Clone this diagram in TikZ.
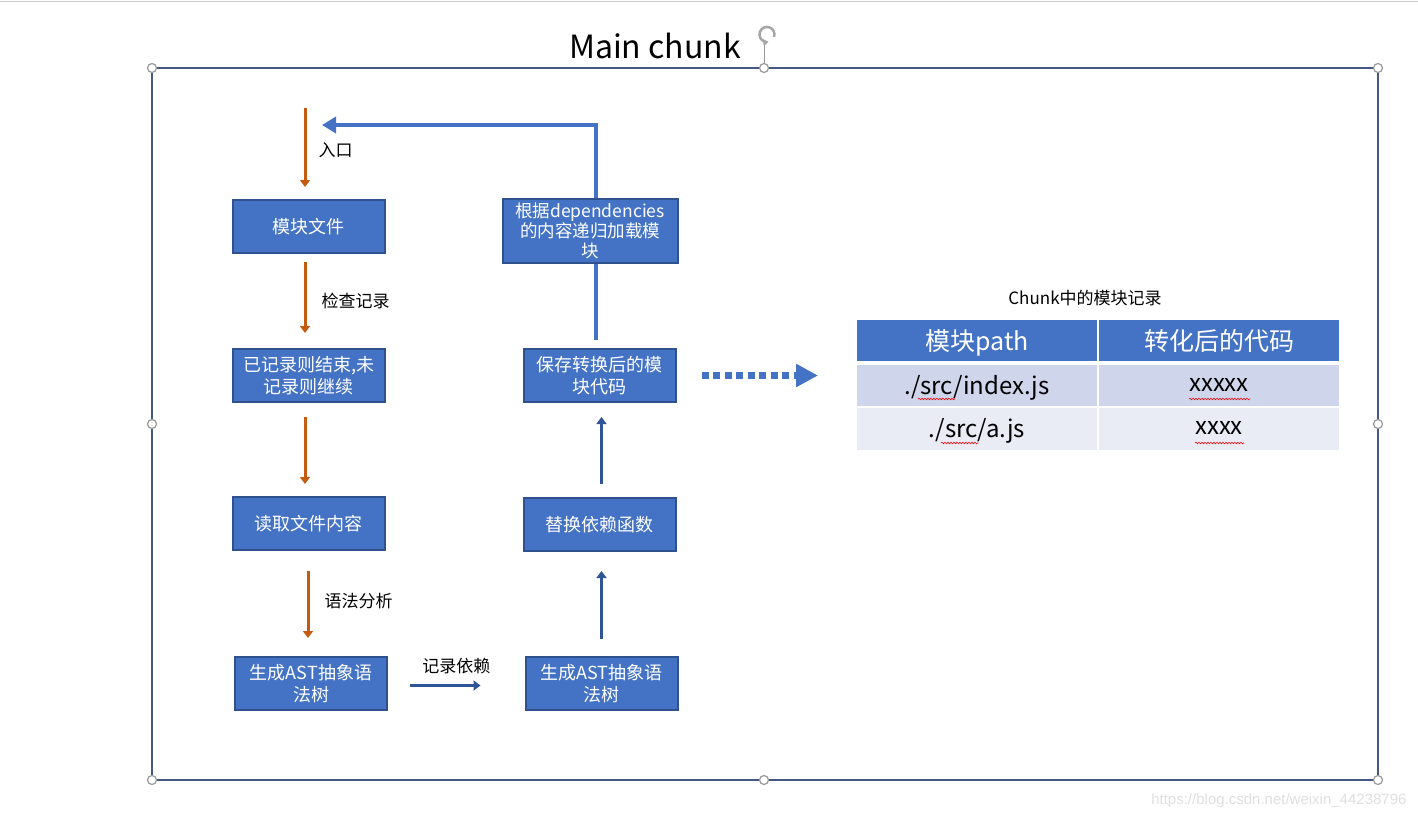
\documentclass[tikz,border=0pt]{standalone}
\usepackage{fontspec}
\setmainfont{Noto Sans CJK SC}
\newfontfamily\wmfont{Liberation Sans}
\usepackage{tikz}
\usetikzlibrary{positioning,arrows.meta,decorations.pathmorphing}
\definecolor{boxblue}{RGB}{68,114,196}
\definecolor{boxedge}{RGB}{47,82,143}
\definecolor{flowred}{RGB}{197,90,17}
\definecolor{flowblue}{RGB}{47,85,151}
\definecolor{framecol}{RGB}{68,88,130}
\definecolor{rowdark}{RGB}{207,213,234}
\definecolor{rowlight}{RGB}{233,235,245}
\tikzstyle{block} = [rectangle, draw=boxedge, line width=2pt, fill=boxblue, text=white,
    align=center, minimum width=152pt, minimum height=53pt, inner sep=2pt,
    font=\fontsize{18pt}{22pt}\selectfont]
\tikzstyle{steplabel} = [inner sep=2pt, font=\fontsize{17pt}{21pt}\selectfont]
\tikzstyle{downarrow} = [draw=flowred, line width=3pt, -{Triangle[length=7pt,width=10pt]}]
\tikzstyle{uparrow} = [draw=flowblue, line width=3pt, -{Triangle[length=7pt,width=10pt]}]
\tikzstyle{backline} = [draw=boxblue, line width=4pt]
\tikzstyle{cell} = [rectangle, minimum width=240pt, minimum height=41pt, inner sep=0pt,
    outer sep=0pt, font=\fontsize{24pt}{28pt}\selectfont]
\tikzstyle{handle} = [draw=gray!80, fill=white, line width=1.2pt]
\tikzstyle{squiggle} = [draw=red, line width=0.6pt, decorate,
    decoration={snake, amplitude=0.8pt, segment length=3pt}]

\begin{document}
\begin{tikzpicture}[x=1pt, y=-1pt, node distance=94pt, auto]
		\useasboundingbox (0,0) rectangle (1418,819);
		\draw [gray!40, line width=1.5pt] (0,1.5) -- (1418,1.5);
		\node [font=\fontsize{32pt}{36pt}\selectfont] (title) at (655,46) {Main chunk};
		\draw [framecol, line width=1.3pt] (152,68) rectangle (1378,780);
		\draw [gray!80, line width=1pt] (764,44) -- (764,68);
		\draw [gray!70, line width=2.5pt, -{Triangle[length=5pt,width=7pt]}] (774,37) arc (-20:280:7.5pt);
		
		\node [block] (modfile) at (308.5,226.5) {模块文件};
		\node [block, below=of modfile] (check) {已记录则结束,未\\记录则继续};
		\node [block, below=93pt of check] (readfile) {读取文件内容};
		\node [block, below=105pt of readfile, xshift=2.5pt] (ast) {生成AST抽象语\\法树};
		\node [block, right=136.5pt of ast] (ast2) {生成AST抽象语\\法树};
		\node [block, above=104pt of ast2, xshift=-2pt] (replace) {替换依赖函数};
		\node [block, above=of replace] (save) {保存转换后的模\\块代码};
		\node [block, minimum width=175pt, minimum height=64pt, above=84pt of save, xshift=-9.5pt,
			font=\fontsize{17.5pt}{20pt}\selectfont] (deps) {根据dependencies\\的内容递归加载模\\块};
		\coordinate (entry) at (305,108);
		\coordinate (back) at (322,125);
		
		\draw [downarrow, shorten >=12pt] (entry) -- (entry |- modfile.north)
			node [steplabel, right=10pt, midway, yshift=3pt] {入口};
		\draw [downarrow, shorten <=8pt, shorten >=15pt] ([xshift=-3.5pt]modfile.south) -- ([xshift=-3.5pt]check.north)
			node [steplabel, right=13pt, midway] {检查记录};
		\draw [downarrow, shorten <=14pt, shorten >=12pt] ([xshift=-3.5pt]check.south) -- ([xshift=-3.5pt]readfile.north);
		\draw [downarrow, shorten <=20pt, shorten >=18pt] ([xshift=-3pt]ast.north |- readfile.south) -- ([xshift=-3pt]ast.north)
			node [steplabel, right=13pt, midway, yshift=2pt] {语法分析};
		\draw [uparrow, shorten <=22pt, shorten >=44pt] ([yshift=-2pt]ast.east) -- ([yshift=-2pt]ast2.west)
			node [steplabel, above=8pt, midway] {记录依赖};
		\draw [uparrow, shorten <=17pt, shorten >=19pt] (ast2.north) -- (ast2.north |- replace.south);
		\draw [uparrow, shorten <=13pt, shorten >=14pt] ([xshift=2pt]replace.north) -- ([xshift=2pt]replace.north |- save.south);
		\draw [backline, shorten <=8pt] ([xshift=-4pt]save.north) -- ([xshift=-4pt]save.north |- deps.south);
		\draw [backline, -{Triangle[length=14pt,width=16pt]}] ([xshift=5.5pt]deps.north) |- (back);
		
		\node [cell, fill=boxblue, text=white, font=\fontsize{25pt}{28pt}\selectfont, text depth=2pt] (hd1) at (977,340.5) {模块path};
		\node [cell, fill=boxblue, text=white, font=\fontsize{25pt}{28pt}\selectfont, text depth=2pt, right=2pt of hd1] (hd2) {转化后的代码};
		\node [cell, fill=rowdark, text depth=2pt, below=4pt of hd1] (r1a) {./src/index.js};
		\node [cell, fill=rowdark, text depth=2pt, right=2pt of r1a] (r1b) {xxxxx};
		\node [cell, fill=rowlight, text depth=2pt, minimum height=42pt, below=2pt of r1a] (r2a) {./src/a.js};
		\node [cell, fill=rowlight, text depth=2pt, minimum height=42pt, right=2pt of r2a] (r2b) {xxxx};
		\node [font=\fontsize{17pt}{20pt}\selectfont] (tbltitle) at (1085,298) {Chunk中的模块记录};
		\draw [squiggle] (918,399) -- (955,399);
		\draw [squiggle] (1189,399) -- (1250,399);
		\draw [squiggle] (941,443) -- (978,443);
		\draw [squiggle] (1195,443) -- (1244,443);
		
		\draw [boxblue, line width=7pt, dash pattern=on 7pt off 4.5pt, -{Triangle[length=22pt,width=22pt]}]
			([xshift=25pt]save.east) -- ([xshift=-39pt]save.east -| r1a.west);
		
		\foreach \hx/\hy in {152/68, 764/68, 1378/68, 152/424, 1378/424, 152/780, 764/780, 1378/780}
			\draw [handle] (\hx,\hy) circle (4.5pt);
		\node [anchor=east, text=gray!25, font=\wmfont\fontsize{15pt}{15pt}\selectfont] (wm) at (1410,801) {https://blog.csdn.net/weixin\_44238796};
\end{tikzpicture}
\end{document}
